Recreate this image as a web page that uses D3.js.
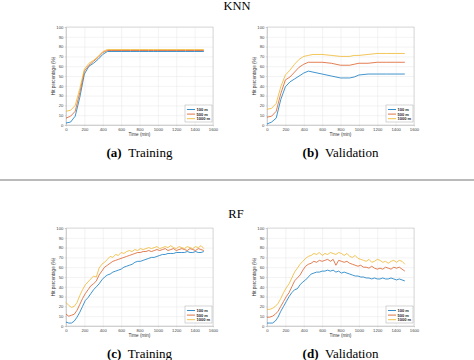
<!DOCTYPE html>
<html>
<head>
<meta charset="utf-8">
<script src="https://cdn.jsdelivr.net/npm/d3@7"></script>
<style>
  body { margin: 0; background: #fff; }
  svg { display: block; }
</style>
</head>
<body>
<svg id="chart"></svg>
<script>
const W = 474, H = 360;

// time stamps (min)
const timeKnn = [0,50,100,150,200,250,300,350,400,450,500,600,700,800,900,950,1000,1100,1200,1300,1400,1500];
const timeRf = [0,30,60,90,120,150,180,210,240,270,300,330,360,390,420,450,480,510,540,570,600,630,660,690,720,750,780,810,840,870,900,930,960,990,1020,1050,1080,1110,1140,1170,1200,1230,1260,1290,1320,1350,1380,1410,1440,1470,1500];

const seriesNames = ["100 m", "500 m", "1000 m"];
const colors = ["#0072BD", "#D95319", "#EDB120"];

// KNN training
const knnTrain100 = [2,3,9,28,52,60,63,67,72,75,75,75,75,75,75,75,75,75,75,75,75,75];
const knnTrain500 = [7,9,14,33,55,61,65,69,74,76,76,76,76,76,76,76,76,76,76,76,76,76];
const knnTrain1000 = [14,15,20,37,57,63,66,70,75,77,77,77,77,77,77,77,77,77,77,77,77,77];

// KNN validation
const knnVal100 = [1,3,7,26,39,44,47,50,53,55,54,52,50,48,48,49,51,52,52,52,52,52];
const knnVal500 = [8,9,14,32,46,49,54,59,62,64,64,64,63,61,61,62,63,63,64,64,64,64];
const knnVal1000 = [16,17,22,39,51,56,62,67,70,71,72,72,71,70,70,71,71,72,73,73,73,73];

// RF training
const rfTrain100 = [4,3,3,5,9,14,20,26,29,33,37,40,43,47,50,52,53,55,56,57,58,60,61,62,63,65,66,66,67,68,69,70,70,71,72,73,73,74,74,74,75,75,75,75,76,75,75,76,75,75,76];
const rfTrain500 = [12,10,11,12,16,22,28,33,37,41,43,46,52,56,60,62,64,66,67,68,69,70,71,72,73,74,75,75,76,76,77,76,77,78,77,78,79,77,78,79,77,78,79,78,77,79,78,77,79,78,77];
const rfTrain1000 = [24,21,19,20,24,31,37,42,45,48,51,50,59,63,65,68,71,70,73,72,75,74,76,77,76,78,77,79,78,79,80,79,80,81,79,80,81,80,82,80,79,81,80,79,81,80,79,81,80,82,79];

// RF validation
const rfVal100 = [3,3,3,5,9,15,20,25,30,34,37,38,42,45,47,50,53,54,55,55,56,56,57,56,57,55,56,54,55,54,53,52,51,51,50,50,49,49,48,49,48,48,49,48,48,49,48,47,48,47,46];
const rfVal500 = [9,9,10,12,15,20,25,30,34,40,46,49,52,57,61,63,64,66,65,67,66,67,68,66,68,62,67,66,65,66,64,63,62,61,62,60,60,59,61,59,58,59,58,60,59,58,60,59,60,58,56];
const rfVal1000 = [17,17,18,20,23,28,34,39,43,49,55,59,63,66,69,71,72,74,73,75,72,74,73,75,74,73,75,74,72,74,71,70,72,69,68,67,66,68,65,66,68,67,65,66,64,66,67,65,67,66,63];

const xTicks = [0,200,400,600,800,1000,1200,1400,1600];
const yTicks = [0,10,20,30,40,50,60,70,80,90,100];

const panels = [
  {x: 66, y: 27, time: timeKnn, data: [knnTrain100, knnTrain500, knnTrain1000], tag: "(a)", caption: "Training"},
  {x: 267, y: 27, time: timeKnn, data: [knnVal100, knnVal500, knnVal1000], tag: "(b)", caption: "Validation"},
  {x: 66, y: 228, time: timeRf, data: [rfTrain100, rfTrain500, rfTrain1000], tag: "(c)", caption: "Training"},
  {x: 267, y: 228, time: timeRf, data: [rfVal100, rfVal500, rfVal1000], tag: "(d)", caption: "Validation"}
];
const pw = 147, ph = 98;

const svg = d3.select("#chart").attr("width", W).attr("height", H);
const serif = "'Liberation Serif', 'DejaVu Serif', serif";
const sans = "'Liberation Sans', Arial, sans-serif";

// section titles
svg.append("text").attr("x", 237).attr("y", 10).attr("text-anchor", "middle")
  .style("font-family", serif).style("font-size", "12.5px").text("KNN");
svg.append("text").attr("x", 236).attr("y", 218).attr("text-anchor", "middle")
  .style("font-family", serif).style("font-size", "12.5px").text("RF");
svg.append("line").attr("x1", 0).attr("x2", W).attr("y1", 180).attr("y2", 180)
  .attr("stroke", "#777").attr("stroke-width", 1.2);

const xScale = d3.scaleLinear().domain([0, 1600]).range([0, pw]);
const yScale = d3.scaleLinear().domain([0, 100]).range([ph, 0]);
const fmt = d3.format("d");

panels.forEach(p => {
  const g = svg.append("g").attr("transform", `translate(${p.x},${p.y})`);
  g.append("rect").attr("width", pw).attr("height", ph).attr("fill", "#fff");

  // grid
  g.append("g").attr("transform", `translate(0,${ph})`)
    .call(d3.axisBottom(xScale).tickValues(xTicks).tickSize(-ph).tickFormat(""))
    .call(s => s.select(".domain").remove())
    .call(s => s.selectAll("line").attr("stroke", "#e6e6e6").attr("stroke-width", 0.5));
  g.append("g")
    .call(d3.axisLeft(yScale).tickValues(yTicks).tickSize(-pw).tickFormat(""))
    .call(s => s.select(".domain").remove())
    .call(s => s.selectAll("line").attr("stroke", "#e6e6e6").attr("stroke-width", 0.5));

  // axes with labels
  const xa = g.append("g").attr("transform", `translate(0,${ph})`)
    .call(d3.axisBottom(xScale).tickValues(xTicks).tickFormat(fmt).tickSize(1.2).tickPadding(1.5));
  const ya = g.append("g")
    .call(d3.axisLeft(yScale).tickValues(yTicks).tickFormat(fmt).tickSize(1.2).tickPadding(1.5));
  [xa, ya].forEach(a => {
    a.select(".domain").attr("stroke", "#bbb").attr("stroke-width", 0.5);
    a.selectAll("line").attr("stroke", "#bbb").attr("stroke-width", 0.5);
    a.selectAll("text").style("font-family", sans).style("font-size", "4.2px").attr("fill", "#444");
  });
  g.append("rect").attr("width", pw).attr("height", ph).attr("fill", "none")
    .attr("stroke", "#bbb").attr("stroke-width", 0.5);

  // series
  const line = d3.line().x((d, i) => xScale(p.time[i])).y(d => yScale(d));
  p.data.forEach((vals, k) => {
    g.append("path").datum(vals).attr("d", line)
      .attr("fill", "none").attr("stroke", colors[k]).attr("stroke-width", 0.75)
      .attr("stroke-linejoin", "round");
  });

  // axis titles
  g.append("text").attr("x", pw / 2).attr("y", ph + 10.5).attr("text-anchor", "middle")
    .style("font-family", sans).style("font-size", "4.6px").attr("fill", "#333").text("Time (min)");
  g.append("text").attr("transform", `translate(-11,${ph / 2}) rotate(-90)`).attr("text-anchor", "middle")
    .style("font-family", sans).style("font-size", "4.6px").attr("fill", "#333").text("Hit percentage (%)");

  // legend
  const lg = g.append("g").attr("transform", `translate(${pw - 28},${ph - 20})`);
  lg.append("rect").attr("width", 27).attr("height", 17).attr("fill", "#fff")
    .attr("stroke", "#aaa").attr("stroke-width", 0.5);
  seriesNames.forEach((n, k) => {
    const yy = 4.5 + k * 4.6;
    lg.append("line").attr("x1", 2).attr("x2", 10).attr("y1", yy).attr("y2", yy)
      .attr("stroke", colors[k]).attr("stroke-width", 0.8);
    lg.append("text").attr("x", 11.5).attr("y", yy + 1.4)
      .style("font-family", sans).style("font-size", "4px").style("font-weight", "bold")
      .attr("fill", "#222").text(n);
  });

  // caption
  const cap = svg.append("text").attr("x", p.x + pw / 2).attr("y", p.y + ph + 32)
    .attr("text-anchor", "middle").style("font-family", serif).style("font-size", "13px");
  cap.append("tspan").style("font-weight", "bold").text(p.tag);
  cap.append("tspan").text("\u2002" + p.caption);
});
</script>
</body>
</html>
